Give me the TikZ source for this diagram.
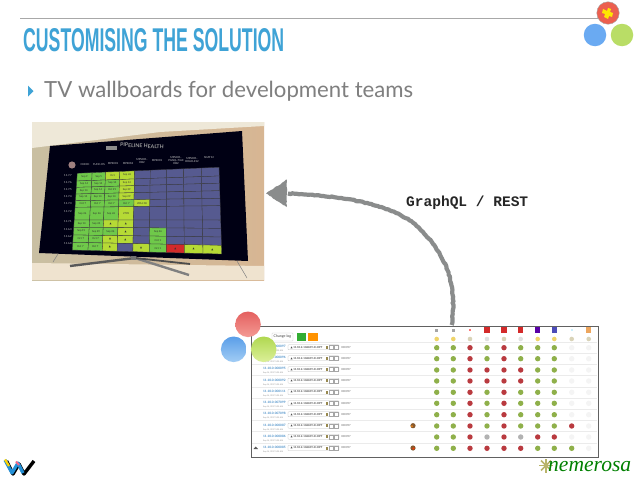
\documentclass[tikz,border=0pt]{standalone}
\usepackage{fontspec}
\usepackage{graphicx}
\usetikzlibrary{decorations.pathmorphing,shapes.geometric,arrows.meta,calc}
\setmainfont{Lato}
\setsansfont{Lato}
\newfontfamily\titlefont{Liberation Sans}
\newfontfamily\handfont{Liberation Mono}
\newfontfamily\logofont{Liberation Serif}
\newfontfamily\symfont{DejaVu Sans}
\newcommand{\upm}{{\symfont ▲}}
\definecolor{titleblue}{HTML}{3FA3D6}
\definecolor{bodygray}{HTML}{7F7F7F}
\definecolor{rulegray}{HTML}{A8A8A8}
\definecolor{arrowgray}{HTML}{8A8C8C}
\definecolor{G}{HTML}{6FC94A}
\definecolor{L}{HTML}{B6DA35}
\definecolor{B}{HTML}{565A90}
\definecolor{R}{HTML}{D32A2A}
\definecolor{dg}{HTML}{8FB04A}
\definecolor{dr}{HTML}{B93A3F}
\definecolor{dn}{HTML}{B2B2B2}
\definecolor{df}{HTML}{F4F4F4}
\definecolor{dy}{HTML}{EFD469}
\definecolor{dt}{HTML}{D9D3B8}
\definecolor{linkblue}{HTML}{4A8FC8}
\tikzset{
  tvtext/.style={font=\fontsize{2.7}{3}\selectfont\sffamily, text=#1, inner sep=0pt},
  celltext/.style={font=\fontsize{2.6}{3}\selectfont\sffamily, text=black!80, inner sep=0pt},
  rowtext/.style={font=\fontsize{3.1}{3.4}\selectfont\sffamily\bfseries, text=linkblue, inner sep=0pt, anchor=west},
  datetext/.style={font=\fontsize{2}{2.4}\selectfont\sffamily, text=black!45, inner sep=0pt, anchor=west},
  tagtext/.style={font=\fontsize{2.7}{2.8}\selectfont\sffamily\bfseries, text=black!70, inner sep=0pt},
  dot/.style={circle, minimum size=5.4pt, inner sep=0pt, fill=#1},
  bigball/.style n args={2}{circle, minimum size=25.6pt, inner sep=0pt, top color=#1, bottom color=#2},
  smallball/.style={circle, minimum size=22.5pt, inner sep=0pt, fill=#1},
  handarrow/.style={draw=arrowgray, line width=4.2pt, decorate, decoration={random steps, segment length=2.2pt, amplitude=.45pt}},
}
\newcommand{\cellat}[4]{%
  \pgfmathsetmacro\ua{{0,.105,.2,.3,.405,.515,.63,.75,.875,1}[#1]}%
  \pgfmathsetmacro\ub{{.105,.2,.3,.405,.515,.63,.75,.875,1,1}[#1]}%
  \pgfmathsetmacro\va{{0,.1,.183,.27,.357,.443,.609,.704,.804,.9}[#2]}%
  \pgfmathsetmacro\vb{{.1,.183,.27,.357,.443,.609,.704,.804,.9,1}[#2]}%
  \coordinate (p1) at ({(1-\va)*((1-\ua)*77.3+\ua*219)+\va*((1-\ua)*72.3+\ua*221.7)},{(1-\va)*((1-\ua)*173.3+\ua*167.3)+\va*((1-\ua)*250+\ua*254)});
  \coordinate (p2) at ({(1-\va)*((1-\ub)*77.3+\ub*219)+\va*((1-\ub)*72.3+\ub*221.7)},{(1-\va)*((1-\ub)*173.3+\ub*167.3)+\va*((1-\ub)*250+\ub*254)});
  \coordinate (p3) at ({(1-\vb)*((1-\ub)*77.3+\ub*219)+\vb*((1-\ub)*72.3+\ub*221.7)},{(1-\vb)*((1-\ub)*173.3+\ub*167.3)+\vb*((1-\ub)*250+\ub*254)});
  \coordinate (p4) at ({(1-\vb)*((1-\ua)*77.3+\ua*219)+\vb*((1-\ua)*72.3+\ua*221.7)},{(1-\vb)*((1-\ua)*173.3+\ua*167.3)+\vb*((1-\ua)*250+\ua*254)});
  \filldraw[fill=#3, draw=black!75, line width=.3pt] (p1)--(p2)--(p3)--(p4)--cycle;
  \node[celltext] at ($(p1)!.5!(p3)$) {#4};
}
\definecolor{ballrtop}{HTML}{E4605F}
\definecolor{ballrbot}{HTML}{F49A94}
\definecolor{ballbtop}{HTML}{5A9EE8}
\definecolor{ballbbot}{HTML}{A2CDF5}
\definecolor{ballgtop}{HTML}{B0D850}
\definecolor{ballgbot}{HTML}{DCF09A}
\definecolor{smb}{HTML}{6AAAF2}
\definecolor{smg}{HTML}{B9DD66}
\definecolor{smr}{HTML}{EC5F4F}
\definecolor{wallL}{HTML}{C9BFA2}
\definecolor{wallR}{HTML}{D7B693}
\definecolor{ceil}{HTML}{EEE8D8}
\definecolor{shelf}{HTML}{EFE3CF}
\definecolor{starc}{HTML}{B9B46A}
\begin{document}
\begin{tikzpicture}[x=1pt,y=-1pt]
\useasboundingbox (0,0) rectangle (638,479);
\fill[white] (0,0) rectangle (638,479);

% heading
\draw[rulegray, line width=1pt] (20,18) -- (600,18);
\node[inner sep=0pt, anchor=west, text=titleblue] (title) at (23,40)
  {\resizebox{261pt}{23pt}{\titlefont\bfseries CUSTOMISING THE SOLUTION}};
\fill[titleblue] (28,85.5) -- (33.5,91) -- (28,96.5) -- cycle;
\node[inner sep=0pt, anchor=west, text=bodygray] (bullet) at (44,91)
  {\resizebox{369pt}{!}{\fontsize{22}{26}\selectfont TV wallboards for development teams}};

% small circles, top right
\node[smallball=smb] (sb) at (595,35) {};
\node[smallball=smg] (sg) at (622,35) {};
\node[smallball=smr, draw=black!35, line width=.4pt] (sr) at (608,13) {};
\fill[yellow!90!orange] (603,9) -- (607,11) -- (608,8) -- (611,9) -- (610,12) -- (613,13) -- (612,17) -- (609,16) -- (608,19) -- (604,17) -- (605,14) -- (602,13) -- cycle;

% photo
\shade[left color=wallL, right color=wallR] (32,122) rectangle (264,280);
\fill[ceil] (32,122) -- (264,122) -- (264,126) -- (160,132) -- (32,148) -- cycle;
\fill[shelf] (32,263) -- (264,266) -- (264,280) -- (32,280) -- cycle;
% TV
\fill[black!92!blue] (50,146) -- (242,131) -- (248,261) -- (39,253) -- cycle;
% stand
\draw[black!65, line width=2.4pt] (70,266) -- (135,258);
\draw[black!50, line width=2.4pt] (135,258) -- (189,275);
\draw[black!70, line width=1.8pt] (135,258) -- (190,264);
\draw[black!55, line width=5pt] (133,256) -- (133,260);
\draw[black!50, line width=.5pt] (58,254) -- (53,262);
\draw[black!50, line width=.5pt] (237,261) -- (247,278);
% screen text
\fill[black!45] (106,146) rectangle (117,150);
\node[tvtext=black!38, font=\fontsize{5.2}{6}\selectfont\sffamily\bfseries, rotate=-3] (tvtitle) at (142,146) {PIPELINE HEALTH};
\foreach \x/\y/\t in {85/165/CHECK, 99/165/FUNC-DS, 113/164/MPS001, 128/163.5/MPS018, 142/161/MPS001-\\DB2, 157/161/MPS001, 176/161/MPS001-\\PGSQL-TIAX\\DB2, 192/160/MPS001-\\ORACLE12, 209/158/SOAT12}
  \node[tvtext=black!20, align=center] at (\x,\y) {\t};
\foreach \y/\t in {176/11.7.7, 183/11.7.6, 190/11.7.5, 197/11.7.4, 204/11.7.3, 212/11.7.2, 222/11.7.1, 230/11.6.3, 237/11.6.2, 244/11.6.0}
  \node[tvtext=black!20] at (68,\y) {\t};
\fill[red!25!black!50] (72,165) circle (3.6);
% screen grid
\foreach \r/\cells in {
  0/{G/Sep 9,G/Sep 5,L/Oct,L/Sep 26,B/{},B/{},B/{},B/{},B/{}},
  1/{G/Sep 14,G/Sep 14,G/Sep 14,L/Sep 14,B/{},B/{},B/{},B/{},B/{}},
  2/{G/Sep 14,G/Sep 14,G/Oct 29,L/Sep 29,B/{},B/{},B/{},B/{},B/{}},
  3/{G/Sep 14,G/Sep 14,G/Sep 14,L/Sep 29,B/{},B/{},B/{},B/{},B/{}},
  4/{G/Oct 7,G/Oct 7,G/Oct 7,G/Oct 7,L/2016 08,B/{},B/{},B/{},B/{}},
  5/{G/Sep 26,G/Sep 26,G/Sep 26,L/2709,B/{},B/{},B/{},B/{},B/{}},
  6/{G/Sep 14,G/Sep 24,L/\upm,L/\upm,B/{},B/{},B/{},B/{},B/{}},
  7/{G/Sep 19,G/Sep 29,G/Sep 26,L/\upm,B/{},G/Sep 26,B/{},B/{},B/{}},
  8/{G/Oct 7,G/Oct 7,L/\upm,L/\upm,B/{},G/Oct 1,B/{},B/{},B/{}},
  9/{G/Oct 7,G/Oct 7,L/\upm,B/{},L/\upm,G/Oct 1,R/\upm,L/\upm,L/\upm}}
{
  \foreach \col/\t [count=\c from 0] in \cells {\cellat{\c}{\r}{\col}{\t}}
}

% screenshot table
\draw[black!62, line width=1pt, fill=white] (251,326) rectangle (598,457);
\foreach \y in {342,353,364.5,375.5,387,398,409,420.5,431.5,443}
  \draw[black!8, line width=.4pt] (252,\y) -- (597,\y);
\draw[black!20, line width=.4pt, rounded corners=.7pt] (272,333) rectangle (293,341);
\node[font=\fontsize{3.6}{5}\selectfont\sffamily, text=black!75, inner sep=0pt] (log) at (282.5,337) {Change log};
\fill[green!60!black!80] (297,333) rectangle (306,341);
\fill[orange!85!yellow] (308,333) rectangle (318,341);
\foreach \y/\t in {347.3/11.10.0-000097, 358.3/11.10.0-000096, 369.3/11.10.0-000095, 380.7/11.10.0-000092, 392/11.10.0-000111, 403.3/11.10.0-007099, 414.3/11.10.0-007098, 425.7/11.10.0-000087, 436.7/11.10.0-000086, 448/11.10.0-000085} {
  \node[rowtext] at (263,\y-.7) {\t};
  \node[datetext] at (263,\y+4) {Sep 14, 2017 3:35 AM};
  \draw[black!25, line width=.3pt, rounded corners=.7pt] (288,\y-2.5) rectangle (339,\y+2.5);
  \node[tagtext] at (306.5,\y) {\upm{} 11.10.2-106659-ill-OPT};
  \fill[black!55!yellow!70!brown] (325.5,\y-1.5) rectangle (328,\y+1.5);
  \draw[black!35, line width=.3pt] (329,\y-2) rectangle (333,\y+2);
  \draw[black!35, line width=.3pt] (334,\y-2) rectangle (338,\y+2);
  \node[tagtext, text=black!45] at (346,\y) {000097};
}
\fill[brown!70!black] (413,425.7) circle (2.6);
\fill[orange!60!brown] (412,426.2) circle (1.2);
\fill[brown!70!black] (413,448) circle (2.6);
\fill[red!60!orange] (413.5,448.5) circle (1.2);
\fill[black!65] (255.7,446.5) -- (258,449) -- (253.5,449) -- cycle;
% table header icons
\foreach \x/\c/\s in {436.7/black!35/3, 453.3/black!35/3, 470/red!55/2, 487/R/5.5, 504/R/5.5, 520.7/R/5.5, 537.7/violet!70!blue/5.5, 554.3/blue!60!black!70/5.5, 571.7/cyan!20/2, 588.7/orange!60!brown!70/5.5}
  \fill[\c] (\x-\s/2,330-\s/2) rectangle (\x+\s/2,330+\s/2);
\foreach \x/\c in {436.7/dy, 453.3/dy, 470/dt, 487/black!12, 504/dt, 520.7/black!12, 537.7/dy, 554.3/dy, 571.7/dt, 588.7/dt}
  \fill[\c] (\x,339) circle (2.3);
% status dots
\foreach \y/\cells in {
  347.7/{dg,dg,dr,dg,dr,dg,dg,dg,df,df},
  358.7/{dg,dg,dr,dg,dr,dg,dg,dg,df,df},
  370/{dg,dg,dr,dr,dr,dr,dg,dg,df,df},
  381/{dg,dg,dr,dr,dr,dr,dg,dg,df,df},
  392.3/{dg,dg,dr,dg,dr,dg,dg,dg,df,df},
  403.3/{dg,dg,dr,dg,dr,dg,dg,dg,df,df},
  414.7/{dg,dg,dr,dg,dr,dg,dg,dg,df,df},
  426/{dg,dg,dr,dg,dr,dg,dg,dg,dr,df},
  437/{dg,dg,dr,dn,dr,dn,dr,dr,df,df},
  448.3/{dg,dg,dr,dr,dr,dr,dg,dg,dg,df}}
{
  \foreach \c [count=\i from 0] in \cells {
    \pgfmathsetmacro\dx{{436.7,453.3,470,487,504,520.7,537.7,554.3,571.7,588.7}[\i]}
    \node[dot=\c] at (\dx,\y) {};
  }
}

% big balls
\node[bigball={ballbtop}{ballbbot}] (bb) at (233.7,349.3) {};
\node[bigball={ballrtop}{ballrbot}] (br) at (248,324.3) {};
\node[bigball={ballgtop}{ballgbot}] (bg) at (263.7,349.3) {};

% hand-drawn arrow
\coordinate (arrowstart) at (451.7,325);
\coordinate (arrowtip) at (288,193.5);
\draw[handarrow] (arrowstart) .. controls (457,285) and (448,255) .. (415,224)
   .. controls (385,202) and (340,196) .. (arrowtip);
\fill[arrowgray, decorate, decoration={random steps, segment length=2pt, amplitude=.5pt}]
   (266,193.5) -- (287,179.5) -- (286.5,207) -- cycle;

\node[inner sep=0pt, anchor=west, text=black!85] (api) at (406,203)
  {\resizebox{122pt}{!}{\handfont\bfseries\fontsize{14}{16}\selectfont GraphQL / REST}};

% nemerosa logo
\foreach \a in {0,45,...,135}
  \draw[starc, line width=1.6pt] (546,465.5) ++(\a:7) -- ++(\a+180:14);
\node[inner sep=0pt, anchor=west, text=green!50!black] (nem) at (548,466.5)
  {\resizebox{83pt}{!}{\logofont\itshape\fontsize{21}{24}\selectfont nemerosa}};

% W logo
\draw[black, line width=3.4pt, line join=round] (6.5,461) -- (13,474) -- (19,464) -- (24,474) -- (34,461);
\draw[cyan!70!blue!90, line width=3.2pt, line join=round] (5,460) -- (12,473) -- (18,463) -- (23,473);
\draw[yellow!70!orange, line width=2.2pt] (5,459.5) -- (9,466);
\draw[magenta!50!red!60, line width=2pt] (16,461.5) -- (19,465);
\end{tikzpicture}
\end{document}
